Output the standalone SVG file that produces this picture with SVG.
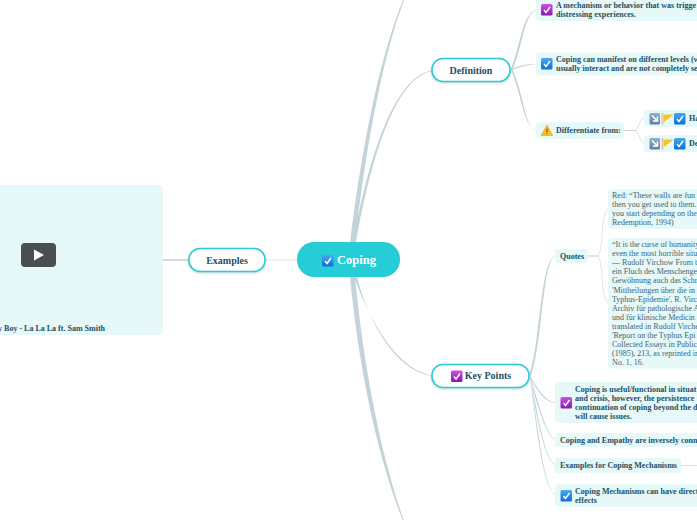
<svg xmlns="http://www.w3.org/2000/svg" width="697" height="520" viewBox="0 0 697 520">
<defs>
<style>
text{font-family:"Liberation Serif","Times New Roman",serif;fill:#24505f}
.b{font-weight:bold;font-size:8px}
.q{font-size:8px;fill:#3f6470}
.n{font-weight:bold;font-size:10px;text-anchor:middle;fill:#1f5060}
.p{fill:#e7f8f9}
.w{fill:#fff;stroke:#26cdd6;stroke-width:1.6;filter:url(#sh)}
.c{fill:none;stroke:#c3d3d8;stroke-linecap:round}
.t{fill:#c3d3d8}
.ck{fill:none;stroke:#fff;stroke-width:1.4}
</style>
<filter id="sh" x="-10%" y="-20%" width="120%" height="150%"><feDropShadow dx="0" dy="1" stdDeviation="1" flood-color="#8fa9b0" flood-opacity=".5"/></filter>
<linearGradient id="bl" x1="0" y1="0" x2="0" y2="1"><stop offset="0" stop-color="#4aa8f0"/><stop offset="1" stop-color="#0a6fd8"/></linearGradient>
<linearGradient id="pu" x1="0" y1="0" x2="0" y2="1"><stop offset="0" stop-color="#d04fe0"/><stop offset="1" stop-color="#8a16b4"/></linearGradient>
<linearGradient id="gr" x1="0" y1="0" x2="0" y2="1"><stop offset="0" stop-color="#94aec8"/><stop offset="1" stop-color="#5f7fa3"/></linearGradient>
<g id="cb"><rect width="11.5" height="11.5" rx="1.5" fill="url(#bl)"/><path class="ck" d="M3 6l2 2.5 4-5.500"/></g>
<g id="cp"><rect width="11.5" height="11.5" rx="1.5" fill="url(#pu)"/><path class="ck" d="M3 6l2 2.5 4-5.500"/></g>
<g id="ar"><rect width="10.5" height="11.5" rx="1.5" fill="url(#gr)"/><path d="M2.5 2.5l5 5M8 3.500v4.500h-4.500" fill="none" stroke="#fff" stroke-width="1.500"/></g>
<g id="fl"><rect x="0" y="0" width="2" height="11.5" fill="#d9cfae"/><path d="M2 1.500h10l-10 8z" fill="#f7c325"/></g>
</defs>
<g id="connectors">
<path class="t" d="M265 259.700H297V260.300H265z"/>
<path class="t" d="M163 259.200H189V260.800H163z"/>
<path class="t" d="M350 243C360 160 378 60 403.500 -1L404.500 -1C381 60 364 160 355 243z"/>
<path class="t" d="M353 243C366 170 392 76 432 70.600L432 71.200C393 77 368 172 356 243z"/>
<path class="t" d="M354 277C370 320 395 368 432 375.700L432 376.300C394 370 368 320 357 277z"/>
<path class="t" d="M350 277C358 360 375 450 403 521L404 521C379 450 363 360 355 277z"/>
<path class="t" d="M511 69C522 40 522 15 536 9.800L536 10.200C524 15 524 41 512.500 70z"/>
<path class="t" d="M511 69.500C518 66 525 64 536 63.800L536 64.200C526 65 519 67 511 70.500z"/>
<path class="t" d="M511 70C522 95 523 126 536 129.800L536 130.200C524.500 127 524.500 96 512.500 69.500z"/>
<path class="c" stroke-width="1.200" d="M624 130.500H635"/>
<path class="c" stroke-width=".6" d="M635 130.500C639 130 639 119 644 118"/>
<path class="c" stroke-width=".6" d="M635 130.500C639 131 639 142 644 143"/>
<path class="t" d="M529.500 375C541 340 540 262 555 255.800L555 256.200C542 263 543 340 531 376z"/>
<path class="c" stroke-width="1.200" d="M588 256H598"/>
<path class="c" stroke-width=".6" d="M598 256C604 250 600 214 608 209"/>
<path class="c" stroke-width=".6" d="M598 256C604 262 600 298 608 303"/>
<path class="t" d="M529.500 375C538 390 545 400 555 402.800L555 403.200C545 402 537 391 530 378z"/>
<path class="t" d="M529.500 375C538 400 545 432 555 439.800L555 440.200C545 434 536 401 530 378z"/>
<path class="t" d="M529.500 375C538 410 543 456 555 464.800L555 465.200C543 458 536 411 530 378z"/>
<path class="t" d="M529.500 375C538 420 542 484 555 494.800L555 495.200C542 486 536 421 530 378z"/>
<path class="c" stroke-width=".6" d="M681 465.500H697"/>
</g>
<g id="video"><rect class="p" x="-20" y="185" width="183" height="150" rx="5"/><rect x="21" y="243" width="35" height="24" rx="4" fill="#4b4f50"/><path d="M34 249.500l10 5.500-10 5.500z" fill="#fff"/><text class="b" x="105" y="331" text-anchor="end">y Boy - La La La ft. Sam Smith</text></g>
<g id="examples"><rect class="w" x="189" y="248.500" width="76" height="23" rx="11"/><text class="n" x="227" y="264">Examples</text></g>
<g id="coping"><rect x="297" y="242" width="103" height="35" rx="17" fill="#26cdd6"/><use href="#cb" x="322" y="255"/><text x="337" y="264" font-size="12.500" font-weight="bold" style="fill:#fff">Coping</text></g>
<g id="definition"><rect class="w" x="432" y="58.500" width="78" height="23" rx="11"/><text class="n" x="471" y="74">Definition</text></g>
<g id="keypoints"><rect class="w" x="432" y="364.500" width="97" height="23" rx="11"/><use href="#cp" x="451" y="370.500"/><text class="n" x="488" y="379">Key Points</text></g>
<g id="n1"><rect class="p" x="536" y="-10" width="170" height="31" rx="4"/><use href="#cp" x="541" y="4"/><text class="b" x="556" y="8">A mechanism or behavior that was trigge</text><text class="b" x="556" y="17">distressing experiences.</text></g>
<g id="n2"><rect class="p" x="536" y="52.500" width="170" height="23" rx="4"/><use href="#cb" x="541" y="58"/><text class="b" x="556" y="62">Coping can manifest on different levels (w</text><text class="b" x="556" y="71">usually interact and are not completely se</text></g>
<g id="n3"><rect class="p" x="536" y="122" width="88" height="17" rx="4"/><path d="M547 125l5.500 10.500h-11.500z" fill="#f7c325" stroke="#f0a010" stroke-width=".7"/><path d="M546.500 128.500h1v3.500h-1zM546.500 133h1v1h-1z" fill="#533"/><text class="b" x="556" y="133">Differentiate from:</text></g>
<g id="n4"><rect class="p" x="644" y="110" width="62" height="17" rx="4"/><use href="#ar" x="649.500" y="113"/><use href="#fl" x="661.500" y="113"/><use href="#cb" x="674" y="113"/><text class="b" x="689" y="121">Ha</text></g>
<g id="n5"><rect class="p" x="644" y="135" width="62" height="17" rx="4"/><use href="#ar" x="649.500" y="138"/><use href="#fl" x="661.500" y="138"/><use href="#cb" x="674" y="138"/><text class="b" x="689" y="146">De</text></g>
<g id="quotes"><rect class="p" x="555" y="249" width="33" height="14" rx="3"/><text class="b" x="560" y="259">Quotes</text></g>
<g id="q1"><rect class="p" x="608" y="189" width="100" height="40" rx="4"/><text class="q"><tspan x="612" y="198">Red: “These walls are fun</tspan><tspan x="612" y="207.100">then you get used to them.</tspan><tspan x="612" y="216.200">you start depending on the</tspan><tspan x="612" y="225.300">Redemption, 1994)</tspan></text></g>
<g id="q2"><rect class="p" x="608" y="238" width="100" height="130.500" rx="4"/><text class="q"><tspan x="612" y="247">“It is the curse of humanity</tspan><tspan x="612" y="256.100">even the most horrible situ</tspan><tspan x="612" y="265.200">— Rudolf Virchow From t</tspan><tspan x="612" y="274.300">ein Fluch des Menschenge</tspan><tspan x="612" y="283.400">Gewöhnung auch das Schr</tspan><tspan x="612" y="292.500">'Mittheilungen über die in</tspan><tspan x="612" y="301.600">Typhus-Epidemie', R. Virc</tspan><tspan x="612" y="310.700">Archiv für pathologische A</tspan><tspan x="612" y="319.800">und für klinische Medicin</tspan><tspan x="612" y="328.900">translated in Rudolf Virche</tspan><tspan x="612" y="338">'Report on the Typhus Epi</tspan><tspan x="612" y="347.100">Collected Essays in Public</tspan><tspan x="612" y="356.200">(1985), 213, as reprinted in</tspan><tspan x="612" y="365.300">No. 1, 16.</tspan></text></g>
<g id="n6"><rect class="p" x="555" y="382" width="150" height="41" rx="4"/><use href="#cp" x="560.500" y="397"/><text class="b"><tspan x="575" y="392">Coping is useful/functional in situat</tspan><tspan x="575" y="401">and crisis, however, the persistence</tspan><tspan x="575" y="410">continuation of coping beyond the d</tspan><tspan x="575" y="419">will cause issues.</tspan></text></g>
<g id="n7"><rect class="p" x="555" y="433" width="150" height="14" rx="3"/><text class="b" x="560" y="443">Coping and Empathy are inversely conn</text></g>
<g id="n8"><rect class="p" x="555" y="458" width="126" height="15" rx="3"/><text class="b" x="560" y="468">Examples for Coping Mechanisms</text></g>
<g id="n9"><rect class="p" x="555" y="484" width="150" height="23" rx="4"/><use href="#cb" x="560.500" y="490"/><text class="b"><tspan x="575" y="494">Coping Mechanisms can have direct</tspan><tspan x="575" y="503">effects</tspan></text></g>
</svg>
